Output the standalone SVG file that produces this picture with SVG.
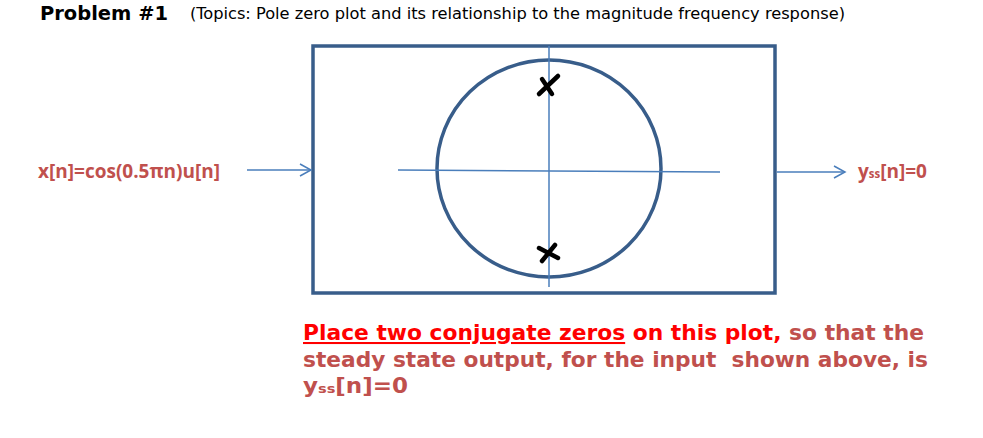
<svg xmlns="http://www.w3.org/2000/svg" width="983" height="438" viewBox="0 0 983 438">
<style>
.ax{stroke:#4A7EBB;stroke-width:1.5;fill:none}
.frame{stroke:#385D8A;stroke-width:3.5;fill:none}
.pole{stroke:#000;stroke-width:4.5;stroke-linecap:round}
.lbl{font-family:"Open Sans","Liberation Sans",sans-serif;font-weight:bold;fill:#C0504D;font-size:20px}
.bt{font-family:"DejaVu Sans","Liberation Sans",sans-serif;font-weight:bold;font-size:20.5px}
</style>
<defs>
<marker id="arr" markerWidth="14" markerHeight="14" refX="12" refY="7" orient="auto" markerUnits="userSpaceOnUse">
<path d="M1,1 L12,7 L1,13" fill="none" stroke="#4A7EBB" stroke-width="1.5"/>
</marker>
</defs>
<rect width="983" height="438" fill="#fff"/>
<text x="40" y="20" font-family="DejaVu Sans,Verdana,sans-serif" font-weight="bold" font-size="19" fill="#000" textLength="128" lengthAdjust="spacingAndGlyphs">Problem #1</text>
<text x="190" y="19" font-family="DejaVu Sans Condensed,DejaVu Sans,sans-serif" font-size="15" fill="#000" textLength="655" lengthAdjust="spacingAndGlyphs">(Topics: Pole zero plot and its relationship to the magnitude frequency response)</text>
<g id="plot">
<rect x="313" y="46" width="462" height="247" class="frame"/>
<ellipse cx="549" cy="168.5" rx="112" ry="108.5" class="frame"/>
<line x1="549" y1="46" x2="549" y2="287" class="ax"/>
<line x1="398" y1="170" x2="720" y2="172" class="ax"/>
</g>
<g id="poles">
<line x1="539" y1="94" x2="558" y2="76" class="pole"/>
<line x1="542" y1="79" x2="552" y2="94" class="pole"/>
<line x1="539" y1="248" x2="558" y2="258" class="pole"/>
<line x1="542" y1="261" x2="555" y2="245" class="pole"/>
</g>
<g id="connectors">
<line x1="247" y1="170" x2="311" y2="170" class="ax" marker-end="url(#arr)"/>
<line x1="777" y1="172" x2="845" y2="172" class="ax" marker-end="url(#arr)"/>
</g>
<g id="input">
<text x="38" y="178" class="lbl" textLength="182" lengthAdjust="spacingAndGlyphs">x[n]=cos(0.5πn)u[n]</text>
</g>
<g id="output">
<text x="858" y="178" class="lbl" textLength="69" lengthAdjust="spacingAndGlyphs">y<tspan font-size="12">ss</tspan>[n]=0</text>
</g>
<g id="note">
<text x="303" y="340" class="bt" textLength="621" lengthAdjust="spacingAndGlyphs"><tspan fill="#FF0000" text-decoration="underline">Place two conjugate zeros</tspan><tspan fill="#FF0000"> on this plot,</tspan><tspan fill="#C0504D"> so that the</tspan></text>
<text x="303" y="367" class="bt" fill="#C0504D" textLength="625" lengthAdjust="spacingAndGlyphs" xml:space="preserve">steady state output, for the input  shown above, is</text>
<text x="303" y="393" class="bt" fill="#C0504D" textLength="105" lengthAdjust="spacingAndGlyphs">y<tspan font-size="13">ss</tspan>[n]=0</text>
</g>
</svg>
